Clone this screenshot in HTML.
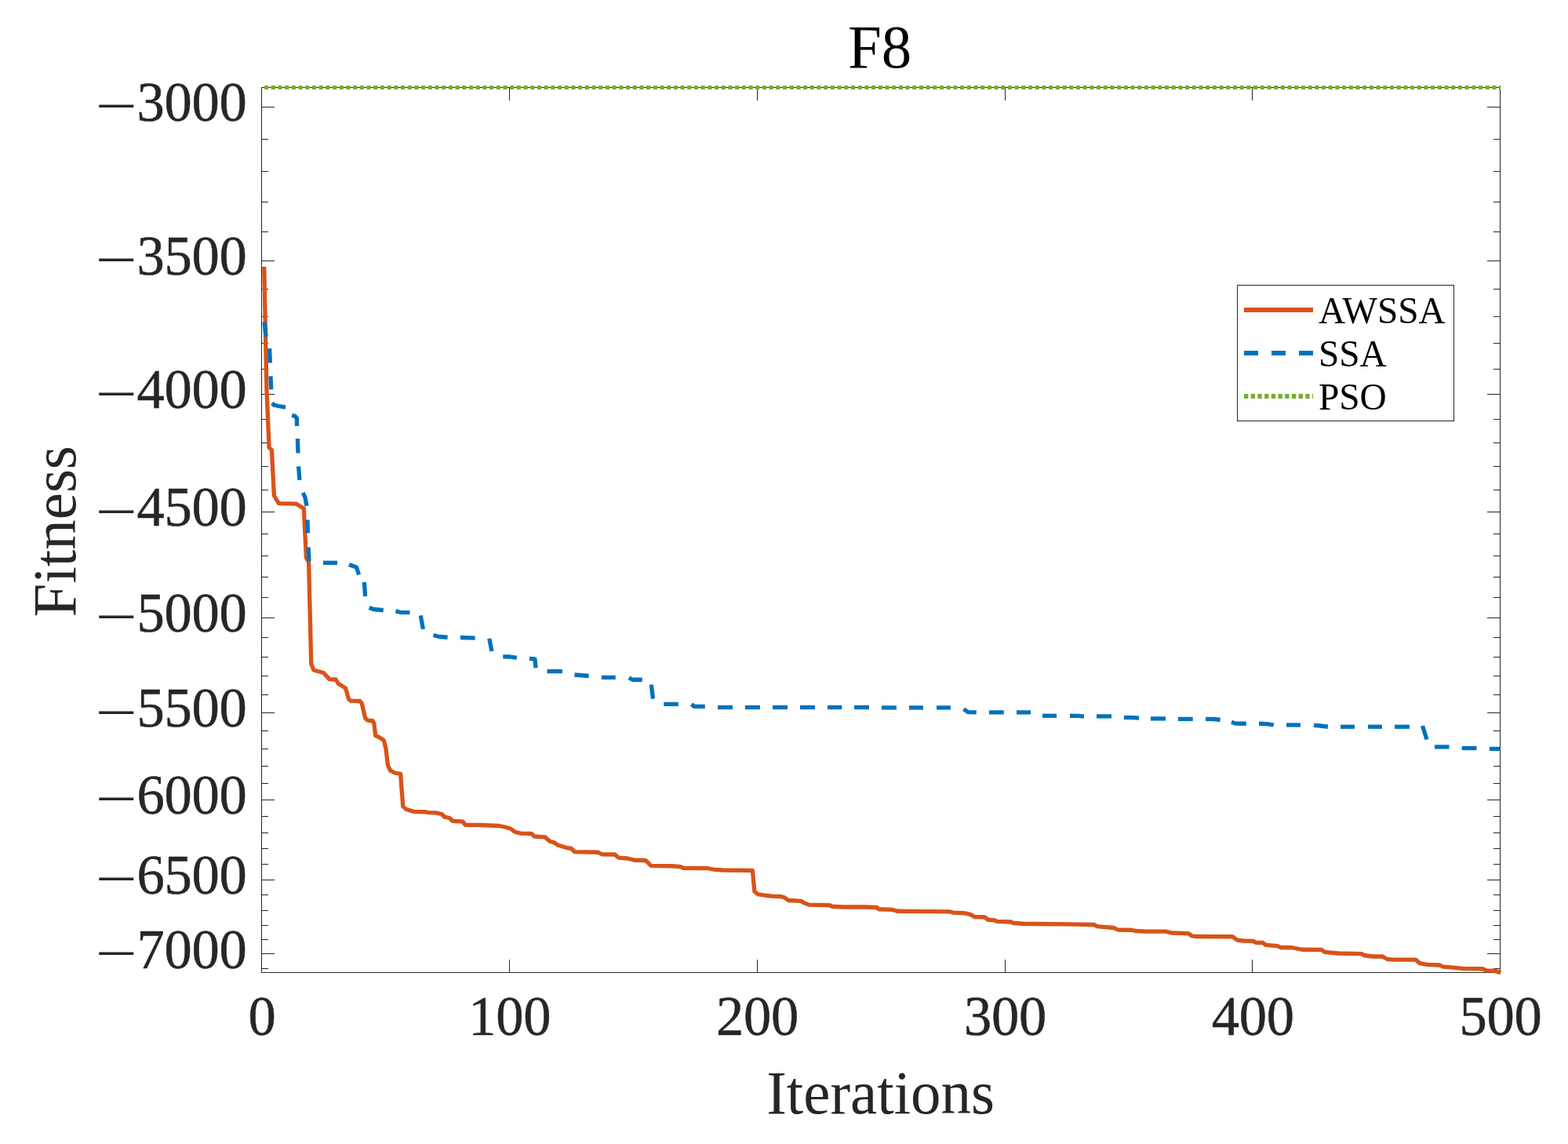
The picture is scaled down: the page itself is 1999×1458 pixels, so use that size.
<!DOCTYPE html>
<html lang="en"><head><meta charset="utf-8"><title>F8</title>
<style>html,body{margin:0;padding:0;background:#fff}body{width:1999px;height:1458px;overflow:hidden}svg{display:block}text{font-family:'Liberation Serif', serif}</style>
</head><body>
<svg width="1999" height="1458" viewBox="0 0 1999 1458">
<rect x="0" y="0" width="1999" height="1458" fill="#fff"/>
<g stroke="#262626" stroke-width="1" fill="none" stroke-linecap="butt">
<path d="M649.5,1239.5v-16.5M649.5,111.5v16.5M965.5,1239.5v-16.5M965.5,111.5v16.5M1281.5,1239.5v-16.5M1281.5,111.5v16.5M1596.5,1239.5v-16.5M1596.5,111.5v16.5M333.5,136.5h16.5M1912.5,136.5h-16.5M333.5,177.5h8.5M1912.5,177.5h-8.5M333.5,218.5h8.5M1912.5,218.5h-8.5M333.5,257.5h8.5M1912.5,257.5h-8.5M333.5,295.5h8.5M1912.5,295.5h-8.5M333.5,332.5h16.5M1912.5,332.5h-16.5M333.5,368.5h8.5M1912.5,368.5h-8.5M333.5,403.5h8.5M1912.5,403.5h-8.5M333.5,437.5h8.5M1912.5,437.5h-8.5M333.5,470.5h8.5M1912.5,470.5h-8.5M333.5,502.5h16.5M1912.5,502.5h-16.5M333.5,534.5h8.5M1912.5,534.5h-8.5M333.5,564.5h8.5M1912.5,564.5h-8.5M333.5,594.5h8.5M1912.5,594.5h-8.5M333.5,624.5h8.5M1912.5,624.5h-8.5M333.5,652.5h16.5M1912.5,652.5h-16.5M333.5,680.5h8.5M1912.5,680.5h-8.5M333.5,708.5h8.5M1912.5,708.5h-8.5M333.5,735.5h8.5M1912.5,735.5h-8.5M333.5,761.5h8.5M1912.5,761.5h-8.5M333.5,787.5h16.5M1912.5,787.5h-16.5M333.5,812.5h8.5M1912.5,812.5h-8.5M333.5,837.5h8.5M1912.5,837.5h-8.5M333.5,861.5h8.5M1912.5,861.5h-8.5M333.5,885.5h8.5M1912.5,885.5h-8.5M333.5,908.5h16.5M1912.5,908.5h-16.5M333.5,931.5h8.5M1912.5,931.5h-8.5M333.5,954.5h8.5M1912.5,954.5h-8.5M333.5,976.5h8.5M1912.5,976.5h-8.5M333.5,998.5h8.5M1912.5,998.5h-8.5M333.5,1019.5h16.5M1912.5,1019.5h-16.5M333.5,1040.5h8.5M1912.5,1040.5h-8.5M333.5,1061.5h8.5M1912.5,1061.5h-8.5M333.5,1081.5h8.5M1912.5,1081.5h-8.5M333.5,1101.5h8.5M1912.5,1101.5h-8.5M333.5,1121.5h16.5M1912.5,1121.5h-16.5M333.5,1140.5h8.5M1912.5,1140.5h-8.5M333.5,1160.5h8.5M1912.5,1160.5h-8.5M333.5,1179.5h8.5M1912.5,1179.5h-8.5M333.5,1197.5h8.5M1912.5,1197.5h-8.5M333.5,1215.5h16.5M1912.5,1215.5h-16.5M333.5,1234.5h8.5M1912.5,1234.5h-8.5"/>
<rect x="333.5" y="111.5" width="1579" height="1128"/>
</g>
<polyline points="336.76,340 339.9,495 343.1,570.3 346.4,573.6 349.4,631.5 352.5,637 355.7,641.7 377.8,642.2 387.3,648 390.4,711 393.6,716 396.75,846 399.9,854 412.5,857.5 420,865.6 428.1,866 431.25,871.25 440.6,876.9 444.4,890.6 446.9,893.1 458.75,893.5 461.25,896.25 465.6,915 468.75,918.1 475,918.5 476.9,922.5 478.75,937.5 483.1,939.4 489.4,943.75 491.9,953.75 494.4,975 497.5,981.9 503.1,985 510.6,986.25 513.75,1027.5 517.5,1031.25 527.5,1034.4 542.5,1034.75 546.25,1035.6 555.6,1035.9 563.1,1037.5 566.9,1041.25 573.1,1042.5 576.9,1046.25 590,1047.1 593.1,1051.25 612.5,1051.5 636.25,1052.5 643.75,1054 651.25,1056.25 656.25,1060.25 663.75,1062.1 677.5,1062.5 681.25,1066 695,1066.9 700.6,1071.9 706.25,1073.75 711.25,1076.9 722.5,1080.6 728.1,1081.25 732.5,1085.6 762.5,1086.25 767.5,1088.75 783.75,1089 788.75,1093.1 800,1094 808.75,1096.25 823.1,1096.5 830,1103.4 856.25,1103.75 867.5,1104.6 871.25,1106.25 901.25,1106.5 910,1108.1 921.25,1109 959.4,1109.4 961.9,1136.25 966.25,1139.75 973.75,1140.9 983.75,1142.1 995,1142.5 1000,1143.75 1005,1147.5 1021.25,1148.4 1025,1150.6 1031.25,1153.1 1057.5,1153.75 1061.25,1155.25 1075,1156 1105,1156 1117.5,1156.5 1120.6,1158.75 1137.5,1159.4 1143.75,1161.25 1181.25,1161.6 1211.25,1161.9 1215,1163.1 1230,1163.75 1237.5,1165.6 1242.5,1168.5 1255,1168.75 1260,1172.25 1267.5,1172.75 1271.25,1174.4 1288.75,1175 1292.5,1176.5 1305,1177.25 1320,1177.5 1360,1177.9 1395,1178.5 1398.75,1180.6 1420,1182.5 1425,1185 1442.5,1185.25 1447.5,1186.5 1461.25,1187.1 1486.25,1187.1 1493.75,1189 1515,1189.6 1519.4,1192.75 1523.75,1193.5 1571.25,1193.75 1577.5,1198.1 1585,1199 1597.5,1199.4 1601.25,1201.25 1610,1201.5 1613.75,1204.4 1628.75,1205.6 1632.5,1207.5 1647.5,1207.75 1660,1210.25 1685,1210.5 1688.75,1213.4 1706.25,1215 1736.25,1215.6 1738.75,1217.5 1750,1219 1762.5,1219 1768.75,1222.5 1777.5,1223.1 1805,1223.1 1810,1227.75 1820,1229.4 1835,1230 1840,1232.1 1852.5,1233.1 1865,1234.4 1890,1234.75 1895,1236.9 1905,1237.1 1913.3,1239.7" fill="none" stroke="#D95319" stroke-width="5.3" stroke-linejoin="round" stroke-linecap="butt"/>
<g fill="none" stroke="#0072BD" stroke-width="5.3" stroke-linejoin="round" stroke-linecap="butt">
<polyline points="337,410.5 339.1,429"/>
<polyline points="343.6,444.2 344.4,462.5"/>
<polyline points="345,479.4 345.8,496.3"/>
<polyline points="346.9,513.7 349.3,516.1 355,517.5 364,519.05"/>
<polyline points="372.2,529.2 376,530.4 378.5,533 378.5,542.9"/>
<polyline points="379.4,559 380,577.5"/>
<polyline points="380.6,594.4 381.9,611.9"/>
<polyline points="386.25,628 389,634 391,645"/>
<polyline points="392,662.5 392.5,679.4"/>
<polyline points="393.1,697.5 394,715"/>
<polyline points="411.9,717.25 430,717.25"/>
<polyline points="445,719.5 449,721 454.5,723 457.5,732.5"/>
<polyline points="464.4,741.9 465.6,760"/>
<polyline points="470.6,774.5 476,776.5 488.75,777.75"/>
<polyline points="504.4,778.75 510,780.3 522.5,780.6"/>
<polyline points="536.25,784.4 539.4,801.9"/>
<polyline points="552.5,809.5 560,811.5 570.6,812.25"/>
<polyline points="586.9,812.5 605.6,813.1"/>
<polyline points="623.75,813.75 627,830"/>
<polyline points="641.25,836.9 650,837 658.75,838.4"/>
<polyline points="675,839.4 681.9,840 683.1,851.25"/>
<polyline points="697.5,855.6 716.9,855.6"/>
<polyline points="732.5,860 750.6,861.5"/>
<polyline points="766.9,863.4 784.75,863.4"/>
<polyline points="801.9,863.75 806.25,866.25 818.75,866.25"/>
<polyline points="830.3,872.5 832.5,890.6"/>
<polyline points="846.25,897.4 864.75,897.4"/>
<polyline points="881.5,897.5 885,900.4 898.75,900.4"/>
<polyline points="915,901.5 934,901.5"/>
<polyline points="950,901.5 969,901.5"/>
<polyline points="985,901.5 1004,901.5"/>
<polyline points="1020,901.5 1039,901.5"/>
<polyline points="1055,901.5 1073.3,901.5"/>
<polyline points="1089,901.5 1108,901.5"/>
<polyline points="1124,901.9 1142.9,901.9"/>
<polyline points="1159,901.9 1176.9,901.9"/>
<polyline points="1194,901.9 1211.9,901.9"/>
<polyline points="1228.6,903.6 1231,905.4 1234.5,907.7 1244.75,907.9"/>
<polyline points="1261,907.9 1279.75,907.9"/>
<polyline points="1296,907.9 1314,907.9"/>
<polyline points="1329,912.25 1347,912.25"/>
<polyline points="1364,912.25 1375,912.4 1382,913.1"/>
<polyline points="1398,912.9 1417,912.9"/>
<polyline points="1433,914.4 1445,914.6 1452,915.2"/>
<polyline points="1466.9,915.9 1486,915.9"/>
<polyline points="1501.9,916.4 1520.75,916.4"/>
<polyline points="1537,916.3 1548,916.5 1555.6,917.5"/>
<polyline points="1570,920.3 1575,922 1588.75,922.25"/>
<polyline points="1605,922.25 1615,922.6 1623.75,924"/>
<polyline points="1640,924 1657.9,924"/>
<polyline points="1675,924.4 1683,925 1692.9,926.25"/>
<polyline points="1709,926.25 1726.9,926.25"/>
<polyline points="1744,926.25 1761.9,926.25"/>
<polyline points="1778.1,926.25 1796.9,926.25"/>
<polyline points="1813.5,925 1819,942.5"/>
<polyline points="1829,951.9 1847.5,951.9"/>
<polyline points="1863.75,953.5 1882.5,953.5"/>
<polyline points="1898.75,954.4 1912.5,954.4"/>
</g>
<path d="M337,111.5H1913.1" fill="none" stroke="#77AC30" stroke-width="5" stroke-dasharray="5.3 3.396"/>
<g fill="#262626" stroke="#262626" stroke-width="0.5" font-size="70.6" letter-spacing="-0.3">
<text transform="translate(0,153.6) scale(1,1.015)"><tspan x="121.5" y="5.3" textLength="53" lengthAdjust="spacingAndGlyphs" stroke="none">−</tspan><tspan x="174.4" y="0">3000</tspan></text>
<text transform="translate(0,350.07) scale(1,1.015)"><tspan x="121.5" y="5.3" textLength="53" lengthAdjust="spacingAndGlyphs" stroke="none">−</tspan><tspan x="174.4" y="0">3500</tspan></text>
<text transform="translate(0,520.27) scale(1,1.015)"><tspan x="121.5" y="5.3" textLength="53" lengthAdjust="spacingAndGlyphs" stroke="none">−</tspan><tspan x="174.4" y="0">4000</tspan></text>
<text transform="translate(0,670.39) scale(1,1.015)"><tspan x="121.5" y="5.3" textLength="53" lengthAdjust="spacingAndGlyphs" stroke="none">−</tspan><tspan x="174.4" y="0">4500</tspan></text>
<text transform="translate(0,804.67) scale(1,1.015)"><tspan x="121.5" y="5.3" textLength="53" lengthAdjust="spacingAndGlyphs" stroke="none">−</tspan><tspan x="174.4" y="0">5000</tspan></text>
<text transform="translate(0,926.15) scale(1,1.015)"><tspan x="121.5" y="5.3" textLength="53" lengthAdjust="spacingAndGlyphs" stroke="none">−</tspan><tspan x="174.4" y="0">5500</tspan></text>
<text transform="translate(0,1037.05) scale(1,1.015)"><tspan x="121.5" y="5.3" textLength="53" lengthAdjust="spacingAndGlyphs" stroke="none">−</tspan><tspan x="174.4" y="0">6000</tspan></text>
<text transform="translate(0,1139.07) scale(1,1.015)"><tspan x="121.5" y="5.3" textLength="53" lengthAdjust="spacingAndGlyphs" stroke="none">−</tspan><tspan x="174.4" y="0">6500</tspan></text>
<text transform="translate(0,1233.52) scale(1,1.015)"><tspan x="121.5" y="5.3" textLength="53" lengthAdjust="spacingAndGlyphs" stroke="none">−</tspan><tspan x="174.4" y="0">7000</tspan></text>
<text transform="translate(334,1318.6) scale(1,1.015)" text-anchor="middle">0</text>
<text transform="translate(649.8,1318.6) scale(1,1.015)" text-anchor="middle">100</text>
<text transform="translate(965.6,1318.6) scale(1,1.015)" text-anchor="middle">200</text>
<text transform="translate(1281.4,1318.6) scale(1,1.015)" text-anchor="middle">300</text>
<text transform="translate(1597.2,1318.6) scale(1,1.015)" text-anchor="middle">400</text>
<text transform="translate(1913,1318.6) scale(1,1.015)" text-anchor="middle">500</text>
</g>
<text transform="translate(1121.6,86.2) scale(1,1.02)" text-anchor="middle" font-size="77" fill="#000">F8</text>
<text transform="translate(1122.6,1418.5) scale(1,1.02)" text-anchor="middle" font-size="77" fill="#262626">Iterations</text>
<text transform="translate(96,677.3) rotate(-90) scale(1,1.02)" text-anchor="middle" font-size="77" fill="#262626">Fitness</text>
<rect x="1577.5" y="363.5" width="276" height="173" fill="#fff" stroke="#262626" stroke-width="1"/>
<path d="M1586,395H1674" stroke="#D95319" stroke-width="5.8" fill="none"/>
<path d="M1586,450H1674" stroke="#0072BD" stroke-width="5.8" fill="none" stroke-dasharray="18 17"/>
<path d="M1586,505H1674" stroke="#77AC30" stroke-width="5.8" fill="none" stroke-dasharray="5.3 3.4"/>
<g fill="#000" font-size="47.3">
<text transform="translate(1681,412.3) scale(1,1.02)">AWSSA</text>
<text transform="translate(1681,467.2) scale(1,1.02)">SSA</text>
<text transform="translate(1681,521.9) scale(1,1.02)">PSO</text>
</g>
</svg>
</body></html>
